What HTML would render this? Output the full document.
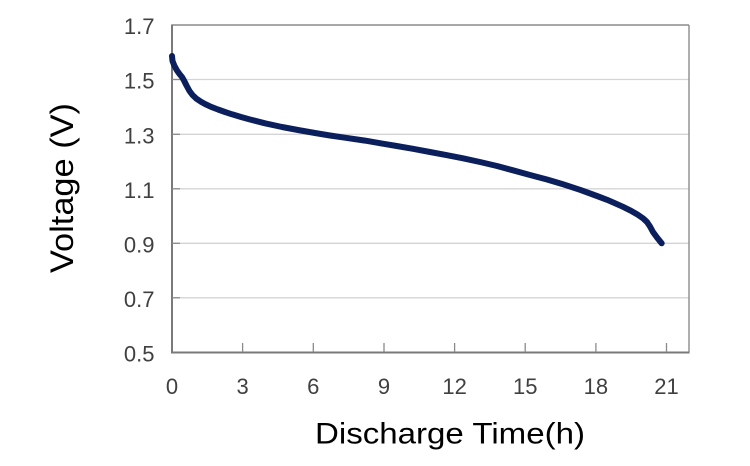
<!DOCTYPE html>
<html>
<head>
<meta charset="utf-8">
<style>
  html,body{margin:0;padding:0;background:#fff;}
  svg{display:block;}
  text{font-family:"Liberation Sans",sans-serif;}
</style>
</head>
<body>
<svg width="750" height="466" viewBox="0 0 750 466" xmlns="http://www.w3.org/2000/svg">
  <rect x="0" y="0" width="750" height="466" fill="#ffffff"/>
  <!-- gridlines -->
  <g stroke="#d4d4d4" stroke-width="1.3">
    <line x1="172" y1="79.5" x2="689" y2="79.5"/>
    <line x1="172" y1="134.3" x2="689" y2="134.3"/>
    <line x1="172" y1="188.8" x2="689" y2="188.8"/>
    <line x1="172" y1="243.3" x2="689" y2="243.3"/>
    <line x1="172" y1="297.8" x2="689" y2="297.8"/>
  </g>
  <!-- frame -->
  <line x1="172" y1="25" x2="689" y2="25" stroke="#8c8c8c" stroke-width="1.4"/>
  <line x1="689" y1="25" x2="689" y2="352.5" stroke="#8c8c8c" stroke-width="1.4"/>
  <!-- axes -->
  <line x1="172" y1="24.5" x2="172" y2="353.5" stroke="#7a7a7a" stroke-width="2"/>
  <line x1="171" y1="352.5" x2="689.5" y2="352.5" stroke="#7a7a7a" stroke-width="2"/>
  <!-- y ticks -->
  <g stroke="#8a8a8a" stroke-width="1.3">
    <line x1="172" y1="79.5" x2="180" y2="79.5"/>
    <line x1="172" y1="134.3" x2="180" y2="134.3"/>
    <line x1="172" y1="188.8" x2="180" y2="188.8"/>
    <line x1="172" y1="243.3" x2="180" y2="243.3"/>
    <line x1="172" y1="297.8" x2="180" y2="297.8"/>
  </g>
  <!-- x ticks -->
  <g stroke="#8a8a8a" stroke-width="1.3">
    <line x1="242.6" y1="343" x2="242.6" y2="352"/>
    <line x1="313.3" y1="343" x2="313.3" y2="352"/>
    <line x1="384" y1="343" x2="384" y2="352"/>
    <line x1="454.6" y1="343" x2="454.6" y2="352"/>
    <line x1="525.2" y1="343" x2="525.2" y2="352"/>
    <line x1="595.9" y1="343" x2="595.9" y2="352"/>
    <line x1="666.5" y1="343" x2="666.5" y2="352"/>
  </g>
  <!-- y labels -->
  <g fill="#404040" font-size="22" text-anchor="end">
    <text x="154.5" y="34">1.7</text>
    <text x="154.5" y="88.5">1.5</text>
    <text x="154.5" y="143.3">1.3</text>
    <text x="154.5" y="197.8">1.1</text>
    <text x="154.5" y="252.3">0.9</text>
    <text x="154.5" y="306.8">0.7</text>
    <text x="154.5" y="361.3">0.5</text>
  </g>
  <!-- x labels -->
  <g fill="#404040" font-size="22" text-anchor="middle">
    <text x="172" y="394">0</text>
    <text x="242.6" y="394">3</text>
    <text x="313.3" y="394">6</text>
    <text x="384" y="394">9</text>
    <text x="454.6" y="394">12</text>
    <text x="525.2" y="394">15</text>
    <text x="595.9" y="394">18</text>
    <text x="666.5" y="394">21</text>
  </g>
  <!-- axis titles -->
  <text x="450" y="443.5" font-size="30" fill="#000" text-anchor="middle" textLength="270" lengthAdjust="spacingAndGlyphs">Discharge Time(h)</text>
  <text transform="translate(73,188) rotate(-90)" x="0" y="0" font-size="32" fill="#000" text-anchor="middle" textLength="170" lengthAdjust="spacingAndGlyphs">Voltage (V)</text>
  <!-- curve -->
  <polyline fill="none" stroke="#0b1f5c" stroke-width="6" stroke-linejoin="round" stroke-linecap="round"
    points="172,56 172.5,61 174.5,66 177,70.5 179.5,74 182,77 184,80.5 186.5,85.5 189.5,91 192.5,95 196.5,98.8 201,101.8 205,104 211,106.8 218,109.5 225,112 232,114.3 241,117 250,119.5 265,123.3 282,127 298,130 315,133 330,135.5 345,137.7 365,140.6 380,143.2 396.7,146 413,148.8 430,152 447,155.2 463,158.3 480,162 497,166 513,170.3 530,175 547,179.5 563,184.3 580,189.8 597,196 607,199.8 615,203.2 623,206.8 630,210.3 637,214.2 643,218.3 647,222 650,226.5 653,232 657,237.5 661.7,243.3"/>
</svg>
</body>
</html>
